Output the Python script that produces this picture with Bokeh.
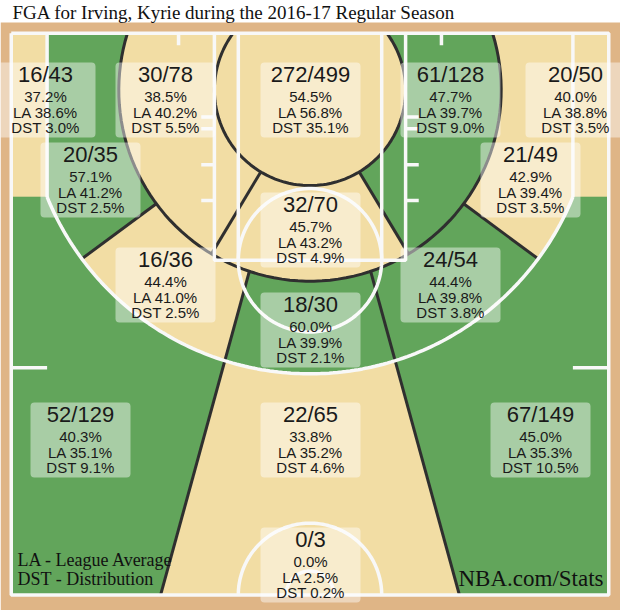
import numpy as np
from bokeh.plotting import figure
from bokeh.models import Range1d, ColumnDataSource
from bokeh.embed import file_html
from bokeh.resources import INLINE
from bokeh.core.properties import value

# ---------------- data ----------------
zones = ["Left Corner 3", "Left 8-16 ft", "Restricted Area", "Right 8-16 ft", "Right Corner 3",
         "Left 16-24 ft", "Right 16-24 ft", "In The Paint (Non-RA)", "Left Center 16-24 ft",
         "Right Center 16-24 ft", "Center 16-24 ft", "Left Wing 3", "Center 3", "Right Wing 3",
         "Backcourt"]
made = [16, 30, 272, 61, 20, 20, 21, 32, 16, 24, 18, 52, 22, 67, 0]
attempts = [43, 78, 499, 128, 50, 35, 49, 70, 36, 54, 30, 129, 65, 149, 3]
fg_pct = [37.2, 38.5, 54.5, 47.7, 40.0, 57.1, 42.9, 45.7, 44.4, 44.4, 60.0, 40.3, 33.8, 45.0, 0.0]
league_avg = [38.6, 40.2, 56.8, 39.7, 38.8, 41.2, 39.4, 43.2, 41.0, 39.8, 39.9, 35.1, 35.2, 35.3, 2.5]
distribution = [3.0, 5.5, 35.1, 9.0, 3.5, 2.5, 3.5, 4.9, 2.5, 3.8, 2.1, 9.1, 4.6, 10.5, 0.2]

title = "FGA for Irving, Kyrie during the 2016-17 Regular Season"

# ---------------- layout ----------------
W, H = 620, 610
S = 1.195            # pixels per court unit (0.1 ft)
CX, CY = 309.5, 89.5  # basket position in pixels


def px2x(px):
    return (px - CX) / S


def px2y(py):
    return (py - CY) / S


label_px = [(45, 99.5), (165, 99.5), (310, 99.5), (450, 99.5), (575, 99.5),
            (90, 179.5), (530, 179.5), (310, 229.5), (165, 284.5), (450, 284.5),
            (310, 329.5), (80, 439.5), (310, 439.5), (540, 439.5), (310, 564.5)]

TAN = "#F2DDA4"
GREEN = "#62A55B"
WOOD = "#DFB586"
DARK = "#2F2F2F"
WHITE = "#F8F8F8"

p = figure(width=W, height=H,
           x_range=Range1d(px2x(0), px2x(W)), y_range=Range1d(px2y(H), px2y(0)),
           output_backend="svg", toolbar_location=None, min_border=0,
           x_axis_location=None, y_axis_location=None,
           outline_line_color=None, background_fill_color="white", border_fill_color="white")
p.grid.visible = False

# wood frame
p.quad(left=px2x(0), right=px2x(W), top=px2y(22), bottom=px2y(H), fill_color=WOOD, line_color=None)

# ---------------- court geometry (court units, basket at 0,0, y toward half court) ----------------
YB, YH, XS = -47.5, 422.5, 250.0
R_RA, R_MID, R3, XC3 = 80.0, 160.0, 237.5, 220.0
Y3 = np.sqrt(R3 ** 2 - XC3 ** 2)
A_ANG, B_ANG, C_ANG = 31.0, 53.5, 18.5
tb80 = np.degrees(np.arccos(YB / R_RA))
tb160 = np.degrees(np.arccos(YB / R_MID))
t3 = np.degrees(np.arcsin(XC3 / R3))


def arc(r, t0, t1, cx=0.0, cy=0.0, n=90):
    t = np.radians(np.linspace(t0, t1, n))
    return [(cx + r * np.sin(a), cy + r * np.cos(a)) for a in t]


def polar(r, t):
    return (r * np.sin(np.radians(t)), r * np.cos(np.radians(t)))


# line C (left): from the 16 ft circle to half court
P0l = polar(R_MID, -C_ANG)
P1l = (-125.0, YH)
d = np.array(P1l) - np.array(P0l)
p0 = np.array(P0l)
qa, qb, qc = d @ d, 2 * p0 @ d, p0 @ p0 - R3 ** 2
tt = (-qb + np.sqrt(qb ** 2 - 4 * qa * qc)) / (2 * qa)
Ql = tuple(p0 + tt * d)
thQl = np.degrees(np.arctan2(Ql[0], Ql[1]))
P0r, P1r, Qr, thQr = (-P0l[0], P0l[1]), (-P1l[0], P1l[1]), (-Ql[0], Ql[1]), -thQl


def mirror(poly):
    return [(-x, y) for x, y in poly]


ra = arc(R_RA, -tb80, tb80)
paint = arc(R_MID, -A_ANG, A_ANG) + arc(R_RA, A_ANG, -A_ANG)
l816 = arc(R_MID, -A_ANG, -tb160) + arc(R_RA, -tb80, -A_ANG)
l1624 = arc(R_MID, -tb160, -B_ANG) + arc(R3, -B_ANG, -t3) + [(-XC3, Y3), (-XC3, YB)]
lc1624 = arc(R_MID, -B_ANG, -C_ANG) + [Ql] + arc(R3, thQl, -B_ANG)
c1624 = arc(R_MID, -C_ANG, C_ANG) + [Qr] + arc(R3, thQr, thQl)
lc3 = [(-XS, YB), (-XC3, YB), (-XC3, Y3), (-XS, Y3)]
lw3 = [(-XS, Y3), (-XC3, Y3)] + arc(R3, -t3, thQl) + [P1l, (-XS, YH)]
c3 = arc(R3, thQl, thQr) + [P1r, P1l]

zone_shapes = [lc3, l816, ra, mirror(l816), mirror(lc3), l1624, mirror(l1624), paint,
               lc1624, mirror(lc1624), c1624, lw3, c3, mirror(lw3), None]

# base court fill
p.quad(left=-XS, right=XS, top=YB, bottom=YH, fill_color=TAN, line_color=None)

xs, ys, cols = [], [], []
for shape, fg, la in zip(zone_shapes, fg_pct, league_avg):
    if shape is None:
        continue
    xs.append([pt[0] for pt in shape])
    ys.append([pt[1] for pt in shape])
    cols.append(GREEN if fg - la > 4.0 else TAN)
p.patches(xs="xs", ys="ys", fill_color="c", line_color="c", line_width=0.5,
          source=ColumnDataSource(dict(xs=xs, ys=ys, c=cols)))

# dark zone boundaries
dark_lines = [arc(R_RA, -tb80, tb80), arc(R_MID, -tb160, tb160)]
for sgn in (-1, 1):
    dark_lines.append([polar(R_RA, sgn * A_ANG), polar(R_MID, sgn * A_ANG)])
    dark_lines.append([polar(R_MID, sgn * B_ANG), polar(R3, sgn * B_ANG)])
dark_lines.append([P0l, P1l])
dark_lines.append([P0r, P1r])
p.multi_line(xs=[[a for a, b in ln] for ln in dark_lines], ys=[[b for a, b in ln] for ln in dark_lines],
             line_color=DARK, line_width=3)

# white court markings
court = [
    [(-XS, YB), (XS, YB), (XS, YH), (-XS, YH), (-XS, YB)],
    [(-XC3, YB), (-XC3, Y3)], [(XC3, YB), (XC3, Y3)],
    arc(R3, -t3, t3, n=160),
    [(-80, YB), (-80, 142.5), (80, 142.5), (80, YB)],
    [(-60, YB), (-60, 142.5)], [(60, YB), (60, 142.5)],
    arc(60, 0, 360, cx=0, cy=142.5, n=120),
    arc(60, 90, 270, cx=0, cy=YH, n=80),
    arc(20, 90, 270, cx=0, cy=YH, n=40),
    [(-110, YB), (-110, YB + 10)], [(110, YB), (110, YB + 10)],
    [(-XS, 232.5), (-XC3, 232.5)], [(XS, 232.5), (XC3, 232.5)],
]
for hy in (22.5, 32.5, 62.5, 92.5):
    court.append([(-80, hy), (-91, hy)])
    court.append([(80, hy), (91, hy)])
p.multi_line(xs=[[a for a, b in ln] for ln in court], ys=[[b for a, b in ln] for ln in court],
             line_color=WHITE, line_width=3.5)

# label boxes + texts
src = ColumnDataSource(dict(
    x=[px2x(a) for a, b in label_px], y=[px2y(b) for a, b in label_px],
    t1=[f"{m}/{a}" for m, a in zip(made, attempts)],
    t2=[f"{v:.1f}%" for v in fg_pct],
    t3=[f"LA {v:.1f}%" for v in league_avg],
    t4=[f"DST {v:.1f}%" for v in distribution],
))
p.rect(x="x", y="y", width=100, height=75, width_units="screen", height_units="screen",
       fill_color="white", fill_alpha=0.45, line_color=None, border_radius=4, source=src)
SANS = value("Liberation Sans")
for col, size, off in (("t1", "22px", -25.8), ("t2", "15px", -3.3), ("t3", "15px", 12.0), ("t4", "15px", 27.0)):
    p.text(x="x", y="y", text=col, source=src, text_font=SANS, text_font_size=size,
           text_color="#1A1A1A", text_align="center", text_baseline="alphabetic", y_offset=off)

SERIF = value("Liberation Serif")
p.text(x=[px2x(12)], y=[px2y(11.5)], text=[title], text_font=SERIF, text_font_size="19px",
       text_color="#111111", text_align="left", text_baseline="alphabetic")
p.text(x=[px2x(17), px2x(17)], y=[px2y(559.5), px2y(578.5)], text=["LA - League Average", "DST - Distribution"],
       text_font=SERIF, text_font_size="18px", text_color="#111111", text_align="left",
       text_baseline="alphabetic")
p.text(x=[px2x(603)], y=[px2y(577.5)], text=["NBA.com/Stats"], text_font=SERIF, text_font_size="23px",
       text_color="#111111", text_align="right", text_baseline="alphabetic")

open("out.html", "w").write(file_html(p, INLINE))
